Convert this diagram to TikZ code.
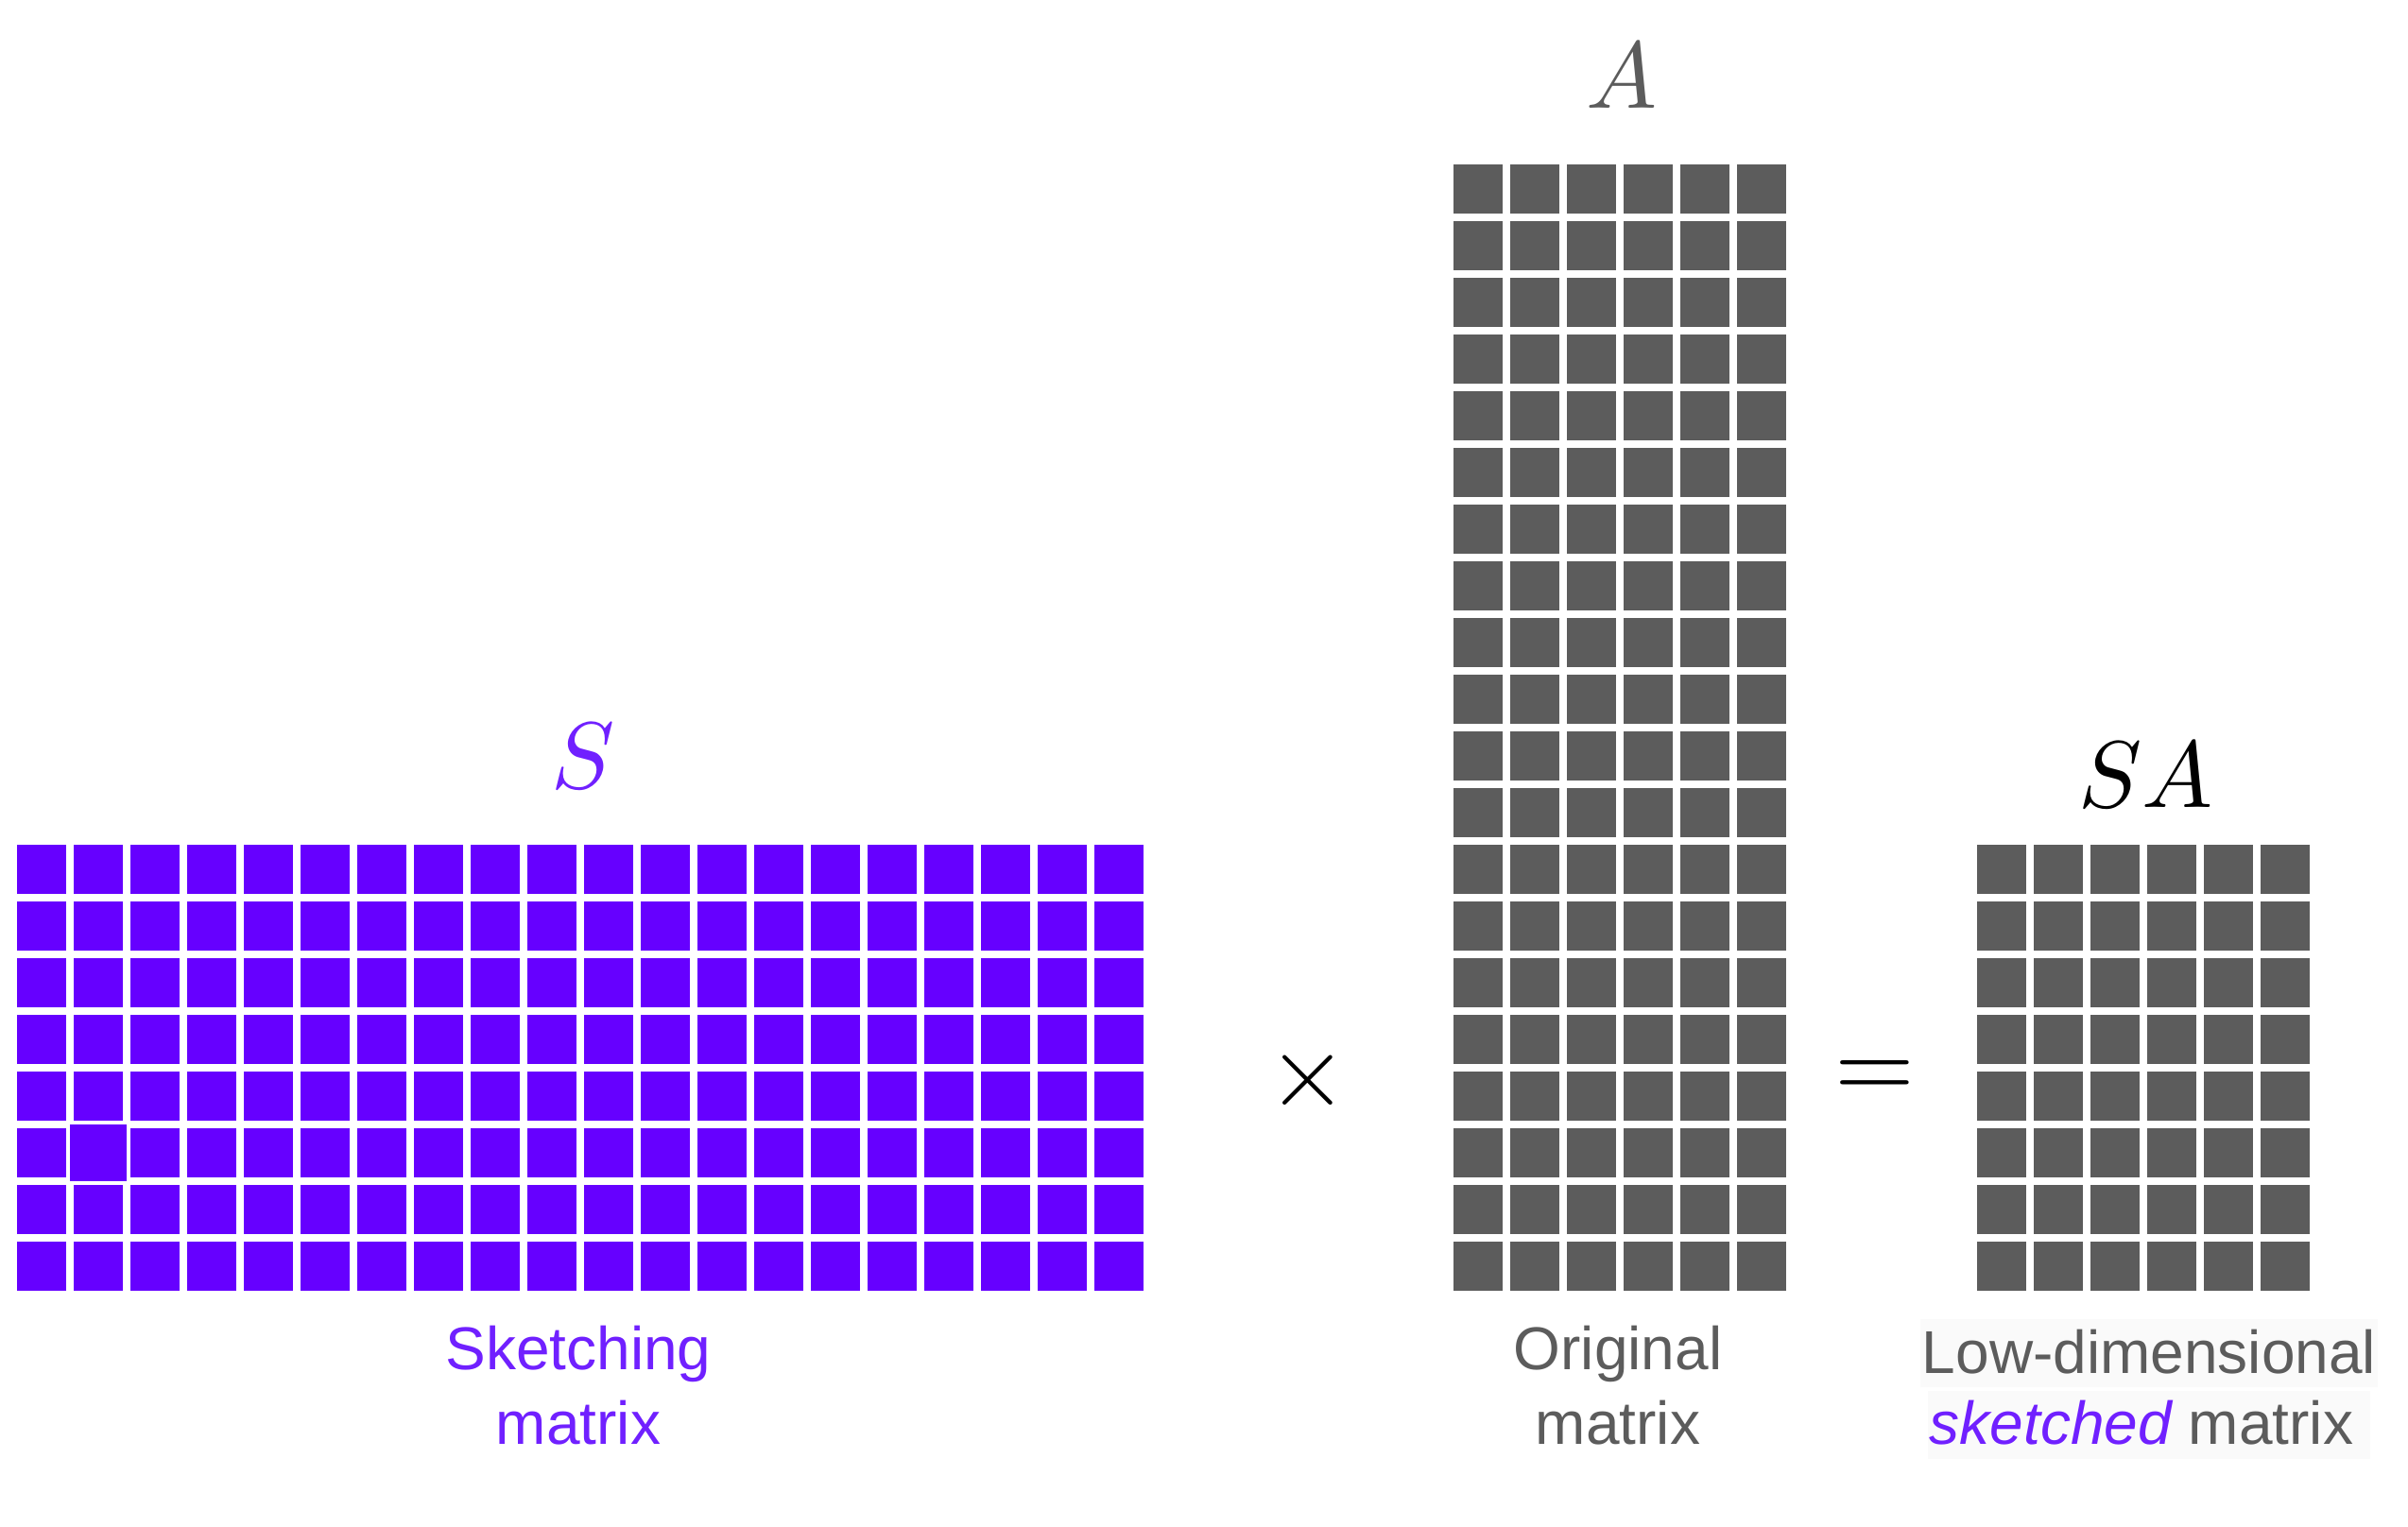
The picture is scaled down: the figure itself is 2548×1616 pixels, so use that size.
\documentclass[tikz,border=0pt]{standalone}
\usepackage{graphicx}
\usepackage{fontspec}
\setmainfont{Liberation Sans}
\definecolor{cellpurple}{HTML}{6600FF}
\definecolor{textpurple}{HTML}{7020FF}
\definecolor{cellgray}{HTML}{5C5C5C}
\definecolor{boxgray}{HTML}{FAFAFA}
\newcommand{\bigmath}[2]{\scalebox{#1}{\fontsize{10}{12}\selectfont$#2$}}
\tikzset{
  caption/.style={anchor=base, inner sep=0pt, font=\fontsize{18.2}{22}\selectfont},
  mathlabel/.style={anchor=base, inner sep=0pt},
  opsym/.style={inner sep=0pt}
}
\begin{document}
\begin{tikzpicture}[x=0.01cm, y=-0.01cm]
\useasboundingbox (0,0) rectangle (2548,1616);
% S matrix 20 x 8
\foreach \i in {0,...,19}{
  \foreach \j in {0,...,7}{
    \fill[cellpurple] ({18+60*\i},{894+60*\j}) rectangle +(52,52);
  }
}
\fill[cellpurple] (74,1190) rectangle (134,1250);
% A matrix 6 x 20
\foreach \i in {0,...,5}{
  \foreach \j in {0,...,19}{
    \fill[cellgray] ({1538+60*\i},{174+60*\j}) rectangle +(52,52);
  }
}
% SA matrix 6 x 8
\foreach \i in {0,...,5}{
  \foreach \j in {0,...,7}{
    \fill[cellgray] ({2092+60*\i},{894+60*\j}) rectangle +(52,52);
  }
}
% labels
\node[mathlabel, text=textpurple] (Slab) at (617,835) {\bigmath{2.85}{S}};
\node[mathlabel, text=cellgray] (Alab) at (1716,115) {\bigmath{2.85}{A}};
\node[mathlabel, text=black] (SAlab) at (2271,855) {\bigmath{2.85}{SA}};
\node[opsym] (times) at (1384,1143) {\bigmath{3.1}{\times}};
\node[opsym] (equals) at (1984,1142) {\bigmath{3.1}{=}};
% captions
\node[caption, text=textpurple] (sk1) at (612,1449) {Sketching};
\node[caption, text=textpurple] (sk2) at (612,1528) {matrix};
\node[caption, text=cellgray] (or1) at (1712,1449) {Original};
\node[caption, text=cellgray] (or2) at (1712,1528) {matrix};
\fill[boxgray] (2032,1396) rectangle (2516,1468);
\fill[boxgray] (2040,1472) rectangle (2508,1544);
\node[caption, text=cellgray] (lo1) at (2274,1453) {Low-dimensional};
\node[caption, text=cellgray] (lo2) at (2266,1528) {\textcolor{textpurple}{\itshape sketched} matrix};
\end{tikzpicture}
\end{document}
